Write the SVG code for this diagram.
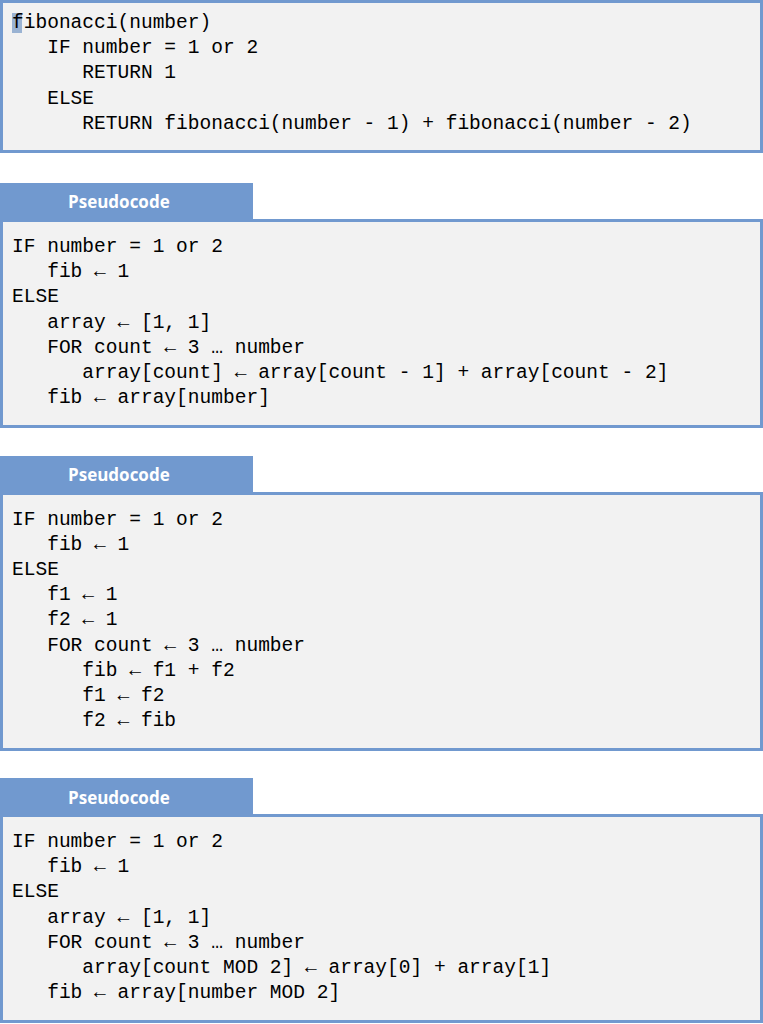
<svg xmlns="http://www.w3.org/2000/svg" width="763" height="1024" viewBox="0 0 763 1024">
<style>
.box{fill:#f2f2f2;stroke:#7199cf;stroke-width:3}
.hdr{fill:#7199cf}
.ht{font-family:"Open Sans","Liberation Sans",sans-serif;font-weight:bold;font-size:17px;fill:#fff}
.c{font-family:"Liberation Mono","DejaVu Sans Mono",monospace;font-size:19.55px;fill:#000;white-space:pre}
</style>
<rect width="763" height="1024" fill="#fff"/>
<g id="recursive">
<rect class="box" x="1.5" y="1.5" width="760" height="150"/>
<rect x="12" y="13" width="10" height="20" fill="#9ab3d3"/>
<text class="c" x="12" y="28" xml:space="preserve">fibonacci(number)</text>
<text class="c" x="12" y="53" xml:space="preserve">   IF number = 1 or 2</text>
<text class="c" x="12" y="78" xml:space="preserve">      RETURN 1</text>
<text class="c" x="12" y="104" xml:space="preserve">   ELSE</text>
<text class="c" x="12" y="129" xml:space="preserve">      RETURN fibonacci(number - 1) + fibonacci(number - 2)</text>
</g>
<g id="array">
<rect class="hdr" x="0" y="183" width="253" height="37"/>
<text class="ht" x="68" y="208">Pseudocode</text>
<rect class="box" x="1.5" y="220.5" width="760" height="206"/>
<text class="c" x="12" y="252" xml:space="preserve">IF number = 1 or 2</text>
<text class="c" x="12" y="277" xml:space="preserve">   fib ← 1</text>
<text class="c" x="12" y="302" xml:space="preserve">ELSE</text>
<text class="c" x="12" y="328" xml:space="preserve">   array ← [1, 1]</text>
<text class="c" x="12" y="353" xml:space="preserve">   FOR count ← 3 … number</text>
<text class="c" x="12" y="378" xml:space="preserve">      array[count] ← array[count - 1] + array[count - 2]</text>
<text class="c" x="12" y="403" xml:space="preserve">   fib ← array[number]</text>
</g>
<g id="vars">
<rect class="hdr" x="0" y="456" width="253" height="37"/>
<text class="ht" x="68" y="481">Pseudocode</text>
<rect class="box" x="1.5" y="493.5" width="760" height="256"/>
<text class="c" x="12" y="525" xml:space="preserve">IF number = 1 or 2</text>
<text class="c" x="12" y="550" xml:space="preserve">   fib ← 1</text>
<text class="c" x="12" y="575" xml:space="preserve">ELSE</text>
<text class="c" x="12" y="600" xml:space="preserve">   f1 ← 1</text>
<text class="c" x="12" y="625" xml:space="preserve">   f2 ← 1</text>
<text class="c" x="12" y="651" xml:space="preserve">   FOR count ← 3 … number</text>
<text class="c" x="12" y="676" xml:space="preserve">      fib ← f1 + f2</text>
<text class="c" x="12" y="701" xml:space="preserve">      f1 ← f2</text>
<text class="c" x="12" y="726" xml:space="preserve">      f2 ← fib</text>
</g>
<g id="mod">
<rect class="hdr" x="0" y="778" width="253" height="37"/>
<text class="ht" x="68" y="804">Pseudocode</text>
<rect class="box" x="1.5" y="815.5" width="760" height="206"/>
<text class="c" x="12" y="847" xml:space="preserve">IF number = 1 or 2</text>
<text class="c" x="12" y="872" xml:space="preserve">   fib ← 1</text>
<text class="c" x="12" y="897" xml:space="preserve">ELSE</text>
<text class="c" x="12" y="923" xml:space="preserve">   array ← [1, 1]</text>
<text class="c" x="12" y="948" xml:space="preserve">   FOR count ← 3 … number</text>
<text class="c" x="12" y="973" xml:space="preserve">      array[count MOD 2] ← array[0] + array[1]</text>
<text class="c" x="12" y="998" xml:space="preserve">   fib ← array[number MOD 2]</text>
</g>
<g id="connectors"/>
</svg>
